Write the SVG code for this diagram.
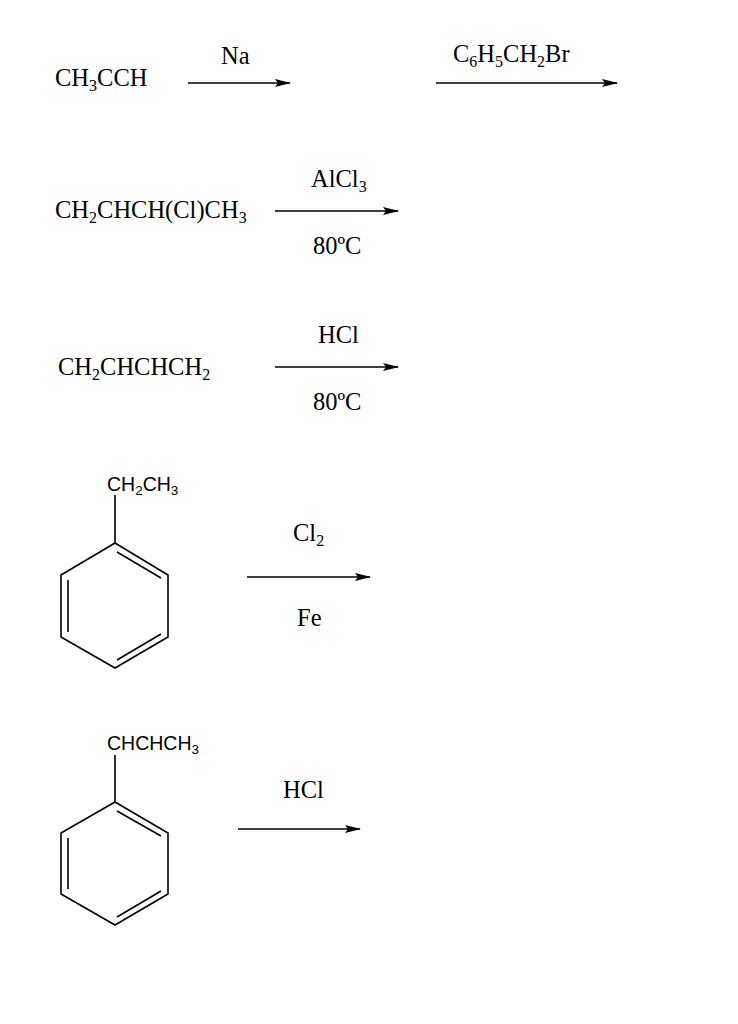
<svg xmlns="http://www.w3.org/2000/svg" width="738" height="1024" viewBox="0 0 738 1024">
<style>
.t{font-family:"Liberation Serif",serif;font-size:24.5px;fill:#000}
.s{font-family:"Liberation Sans",sans-serif;font-size:19.5px;fill:#000}
.b{stroke:#000;stroke-width:1.6;fill:none}
.a{stroke:#000;stroke-width:1.3;marker-end:url(#ah)}
</style>
<defs><marker id="ah" markerWidth="16" markerHeight="8" refX="15" refY="4" orient="auto" markerUnits="userSpaceOnUse"><path d="M0,0 L16,4 L0,8 L3,4 Z" fill="#000"/></marker></defs>
<rect width="738" height="1024" fill="#fff"/>
<g id="connectors">
<line class="a" x1="188" y1="83" x2="290" y2="83"/>
<line class="a" x1="436" y1="83" x2="617" y2="83"/>
<line class="a" x1="275" y1="211" x2="398" y2="211"/>
<line class="a" x1="275" y1="367" x2="398" y2="367"/>
<line class="a" x1="247" y1="577" x2="370" y2="577"/>
<line class="a" x1="238" y1="829" x2="360" y2="829"/>
</g>
<g id="r1"><text class="t" x="55" y="86">CH<tspan font-size="16" dy="5">3</tspan><tspan dy="-5">CCH</tspan></text>
<text class="t" x="221" y="64">Na</text>
<text class="t" x="453" y="62">C<tspan font-size="16" dy="5">6</tspan><tspan dy="-5">H</tspan><tspan font-size="16" dy="5">5</tspan><tspan dy="-5">CH</tspan><tspan font-size="16" dy="5">2</tspan><tspan dy="-5">Br</tspan></text></g>
<g id="r2"><text class="t" x="55" y="218">CH<tspan font-size="16" dy="5">2</tspan><tspan dy="-5">CHCH(Cl)CH</tspan><tspan font-size="16" dy="5">3</tspan></text>
<text class="t" x="311" y="187">AlCl<tspan font-size="16" dy="5">3</tspan></text>
<text class="t" x="313" y="254">80ºC</text></g>
<g id="r3"><text class="t" x="58" y="375">CH<tspan font-size="16" dy="5">2</tspan><tspan dy="-5">CHCHCH</tspan><tspan font-size="16" dy="5">2</tspan></text>
<text class="t" x="318" y="343">HCl</text>
<text class="t" x="313" y="410">80ºC</text></g>
<g id="r4"><text class="s" x="107" y="491">CH<tspan font-size="13.5" dy="4">2</tspan><tspan dy="-4">CH</tspan><tspan font-size="13.5" dy="4">3</tspan></text>
<path class="b" d="M115,495 L115,543 M115,543 L168,575 L168,637 L115,668 L61,637 L61,575 Z"/>
<path class="b" d="M117,552 L161,578 M68,580 L68,632 M161,634 L117,660"/>
<text class="t" x="293" y="541">Cl<tspan font-size="16" dy="5">2</tspan></text>
<text class="t" x="297" y="626">Fe</text></g>
<g id="r5"><text class="s" x="107" y="750">CHCHCH<tspan font-size="13.5" dy="4">3</tspan></text>
<path class="b" d="M115,755 L115,802 M115,802 L168,833 L168,894 L115,925 L61,894 L61,833 Z"/>
<path class="b" d="M117,811 L161,836 M68,838 L68,889 M161,891 L117,917"/>
<text class="t" x="283" y="798">HCl</text></g>
</svg>
